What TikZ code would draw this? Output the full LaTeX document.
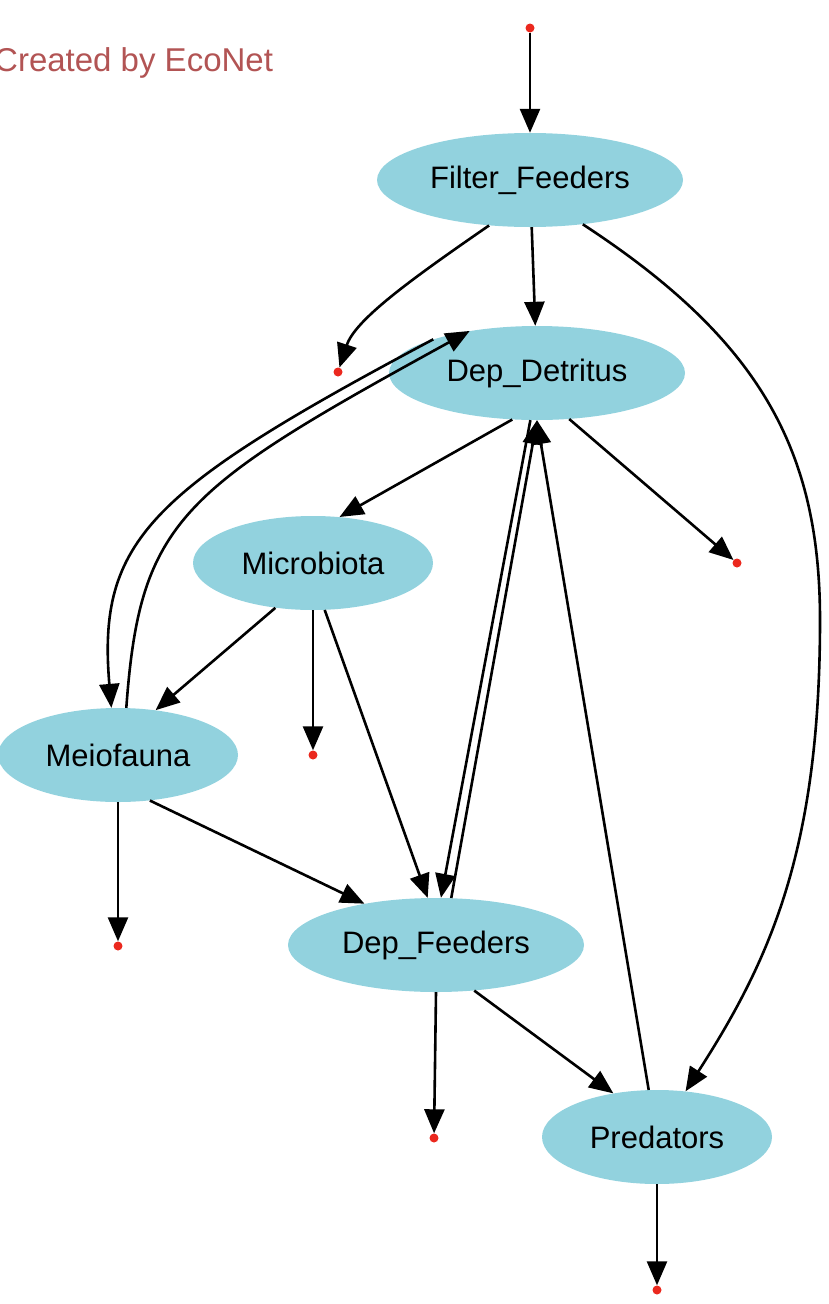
\documentclass[tikz,border=0pt]{standalone}
\usepackage{fontspec}
\setmainfont{Liberation Sans}
\usetikzlibrary{shapes.geometric,arrows.meta}
\definecolor{nodefill}{RGB}{146,210,222}
\definecolor{titlecol}{RGB}{178,84,84}
\definecolor{dotred}{RGB}{235,40,30}
\begin{document}
\begin{tikzpicture}[x=1pt,y=-1pt,
  sp/.style={ellipse,fill=nodefill,inner sep=0pt,minimum height=94pt,font=\fontsize{31}{35}\selectfont},
  sink/.style={circle,fill=dotred,inner sep=0pt,minimum size=9pt},
  fl/.style={line width=2.6pt,-{Triangle[length=24pt,width=20pt]}}]
\useasboundingbox (0,0) rectangle (828,1304);
\node[anchor=west,text=titlecol,font=\fontsize{33}{37}\selectfont,inner sep=0pt] (title) at (-6,63) {Created by EcoNet};
\node[sp,minimum width=306pt] (ff) at (530,180) {Filter\_Feeders};
\node[sp,minimum width=296pt] (dd) at (537,373) {Dep\_Detritus};
\node[sp,minimum width=240pt] (mb) at (313,563) {Microbiota};
\node[sp,minimum width=240pt] (mf) at (118,755) {Meiofauna};
\node[sp,minimum width=296pt] (df) at (436,945) {Dep\_Feeders};
\node[sp,minimum width=230pt] (pr) at (657,1137) {Predators};
\node[sink] (s0) at (530,28) {};
\node[sink] (s1) at (338,372) {};
\node[sink] (s2) at (737,563) {};
\node[sink] (s3) at (313,755) {};
\node[sink] (s4) at (118,946) {};
\node[sink] (s5) at (434,1138) {};
\node[sink] (s6) at (657,1290) {};
\draw[fl] (s0) -- (ff);
\draw[fl] (ff) -- (dd);
\draw[fl] (ff.228) .. controls (410,280) and (355,320) .. (s1);
\draw[fl] (ff.-40) .. controls (760,340) and (820,450) .. (820,620) .. controls (820,850) and (770,960) .. (pr.58);
\draw[fl] (dd.-118) -- (mb.60);
\draw[fl] (dd.-55) -- (s2);
\draw[fl] (dd.162) .. controls (150,490) and (97,540) .. (mf.98);
\draw[fl] (mf.80) .. controls (140,520) and (180,490) .. (dd.148);
\draw[fl] (dd.-98) -- (df.84);
\draw[fl] (df.72) -- (dd.-90);
\draw[fl] (mb.-130) -- (mf.50);
\draw[fl] (mb.-90) -- (s3);
\draw[fl] (mb.-76) -- (df.100);
\draw[fl] (mf.-55) -- (df.150);
\draw[fl] (mf.-90) -- (s4);
\draw[fl] (df.-90) -- (s5);
\draw[fl] (df.-50) -- (pr.135);
\draw[fl] (pr.100) -- (dd.-90);
\draw[fl] (pr) -- (s6);
\end{tikzpicture}
\end{document}
